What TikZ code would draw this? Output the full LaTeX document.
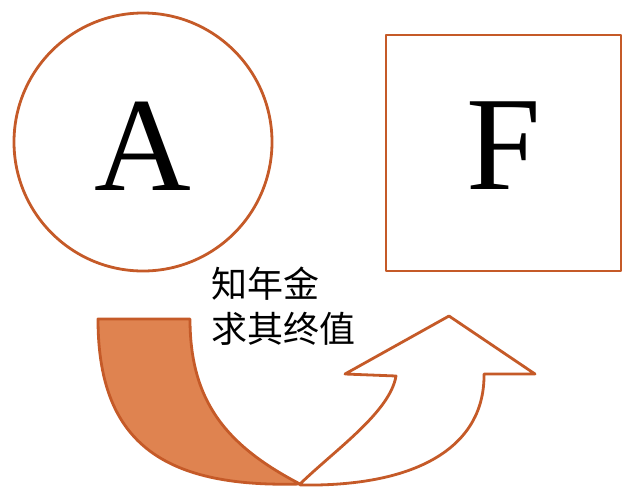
\documentclass[tikz,border=0pt]{standalone}
\usepackage{fontspec}
\setmainfont{Liberation Serif}
\newfontfamily\cjk{Noto Sans CJK SC}
\definecolor{rust}{RGB}{197,90,40}
\definecolor{peach}{RGB}{223,131,80}
\tikzset{
  bigletter/.style={font=\fontsize{134}{134}\selectfont},
  outline/.style={draw=rust, line width=2.8pt, line join=round}
}
\begin{document}
\begin{tikzpicture}[x=1pt, y=-1pt]
  \useasboundingbox (0,0) rectangle (636,501);
  \node[outline, circle, minimum size=258pt, bigletter, text height=97pt] (A) at (143,142) {A};
  \node[outline, rectangle, minimum width=235pt, minimum height=236pt, bigletter, text depth=14pt] (F) at (503.5,153) {F};
  \node[anchor=north west, inner sep=0pt, align=left, font=\cjk\fontsize{36}{45}\selectfont] (note) at (211,267) {知年金\\求其终值};
  % white part of the arrow
  \filldraw[outline, fill=white] (300,484) .. controls (335,450) and (390,412) .. (396,376)
    -- (345,374) -- (449,316) -- (535,374) -- (484,374)
    .. controls (485,445) and (420,487) .. (300,485) -- cycle;
  % shaded band
  \filldraw[outline, fill=peach] (98,319) -- (190,319) .. controls (190,400) and (225,445) .. (300,484)
    .. controls (160,488) and (98,440) .. (98,319) -- cycle;
\end{tikzpicture}
\end{document}
